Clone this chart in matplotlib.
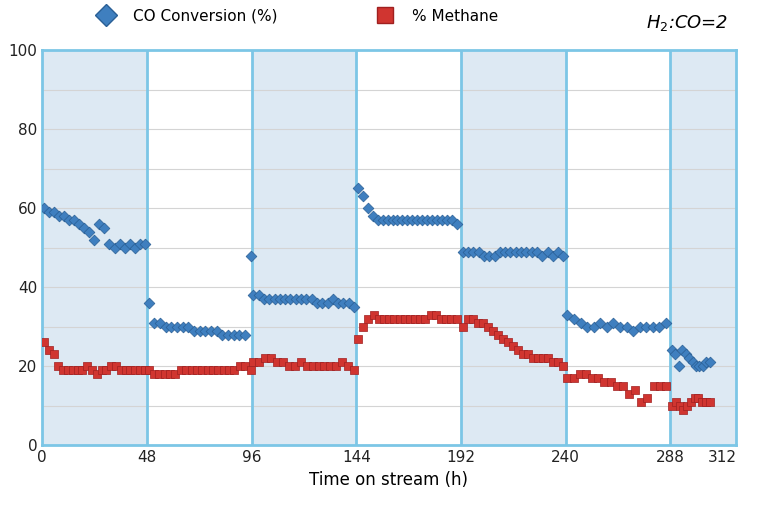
import numpy as np
import matplotlib
matplotlib.use("Agg")
import matplotlib.pyplot as plt

bounds = [0, 48, 96, 144, 192, 240, 288, 312]
tick_labels = ["0", "48", "96", "144", "192", "240", "288", "312"]

co_segments = [
    [60, 59, 59, 58, 58, 57, 57, 56, 55, 54, 52, 56, 55, 51, 50, 51, 50, 51, 50, 51, 51],
    [36, 31, 31, 30, 30, 30, 30, 30, 29, 29, 29, 29, 29, 28, 28, 28, 28, 28, 48],
    [38, 38, 37, 37, 37, 37, 37, 37, 37, 37, 37, 37, 36, 36, 36, 37, 36, 36, 36, 35],
    [65, 63, 60, 58, 57, 57, 57, 57, 57, 57, 57, 57, 57, 57, 57, 57, 57, 57, 57, 57, 56],
    [49, 49, 49, 49, 48, 48, 48, 49, 49, 49, 49, 49, 49, 49, 49, 48, 49, 48, 49, 48],
    [33, 32, 31, 30, 30, 31, 30, 31, 30, 30, 29, 30, 30, 30, 30, 31],
    [24, 23, 20, 24, 23, 22, 21, 20, 20, 20, 21, 21],
]
ch4_segments = [
    [26, 24, 23, 20, 19, 19, 19, 19, 19, 20, 19, 18, 19, 19, 20, 20, 19, 19, 19, 19, 19, 19],
    [19, 18, 18, 18, 18, 18, 19, 19, 19, 19, 19, 19, 19, 19, 19, 19, 19, 20, 20, 19],
    [21, 21, 22, 22, 21, 21, 20, 20, 21, 20, 20, 20, 20, 20, 20, 21, 20, 19],
    [27, 30, 32, 33, 32, 32, 32, 32, 32, 32, 32, 32, 32, 32, 33, 33, 32, 32, 32, 32],
    [30, 32, 32, 31, 31, 30, 29, 28, 27, 26, 25, 24, 23, 23, 22, 22, 22, 22, 21, 21, 20],
    [17, 17, 18, 18, 17, 17, 16, 16, 15, 15, 13, 14, 11, 12, 15, 15, 15],
    [10, 11, 10, 9, 10, 11, 12, 12, 11, 11, 11],
]
seg_ends = [47, 95.5, 143, 190, 239, 286, 306]

def times(segs):
    t, v = [], []
    for i, s in enumerate(segs):
        t += list(np.linspace(bounds[i] + 0.8, seg_ends[i], len(s)))
        v += s
    return t, v

co_t, co_v = times(co_segments)
ch_t, ch_v = times(ch4_segments)

fig = plt.figure(figsize=(7.68, 5.07), dpi=100)
ax = fig.add_axes([0.055, 0.122, 0.903, 0.779])
ax.set_xlim(0, 318)
ax.set_ylim(0, 100)
edge = "#7cc6e6"
for i in range(len(bounds) - 1):
    if i % 2 == 0:
        ax.axvspan(bounds[i], bounds[i + 1] if i < 6 else 318, color="#dde9f3", zorder=0, lw=0)
for b in bounds[1:-1]:
    ax.axvline(b, color=edge, lw=2, zorder=1)
for y in range(10, 100, 10):
    ax.axhline(y, color="#d4d4d4", lw=0.8, zorder=0.5)
for s in ax.spines.values():
    s.set_color(edge)
    s.set_linewidth(2)
ax.scatter(co_t, co_v, marker="D", s=30, color="#3f7fbf", edgecolor="#2a5f95", lw=0.5, zorder=3)
ax.scatter(ch_t, ch_v, marker="s", s=26, color="#d03530", edgecolor="#a02020", lw=0.5, zorder=3)
ax.set_xticks(bounds)
ax.set_xticklabels(tick_labels)
ax.set_yticks(range(0, 101, 20))
ax.tick_params(length=0, labelsize=11, colors="#222222")
ax.set_xlabel("Time on stream (h)", fontsize=12)

fig.legend(handles=[
    plt.Line2D([], [], marker="D", ls="", ms=11, color="#3f7fbf", mec="#2a5f95", label="CO Conversion (%)"),
    plt.Line2D([], [], marker="s", ls="", ms=12, color="#d03530", mec="#a02020", label="% Methane")],
    loc="upper left", bbox_to_anchor=(0.1, 1.01), ncol=2, frameon=False, fontsize=11, columnspacing=6)
fig.text(0.895, 0.955, "$H_2$:CO=2", fontsize=13, style="italic", ha="center", va="center")
fig.savefig("out.png", dpi=100)
